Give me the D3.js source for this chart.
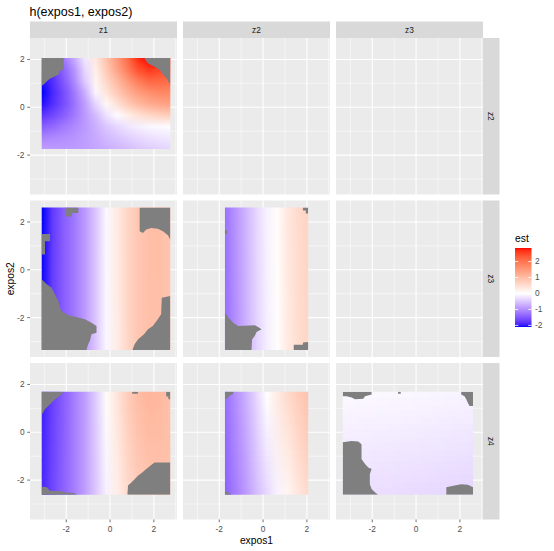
<!DOCTYPE html>
<html>
<head>
<meta charset="utf-8">
<script src="https://cdn.jsdelivr.net/npm/d3@7"></script>
<style>
  body { margin: 0; background: #fff; }
  svg { display: block; font-family: "Liberation Sans", Arial, sans-serif; }
</style>
</head>
<body>
<div id="chart"></div>
<script>
// facet levels
const colLevels = ["z1", "z2", "z3"];
const rowLevels = ["z2", "z3", "z4"];

// observed range of each variable (tile edges)
const rangeZ1 = [-3.12, 2.75];
const rangeZ2 = [-1.74, 2.06];
const rangeZ3 = [-3.35, 2.6];
const rangeZ4 = [-2.61, 1.70];

const xBreaks = [-2, 0, 2];
const yBreaks = [-2, 0, 2];
const legendBreaks = [-2, -1, 0, 1, 2];

// est on a regular grid of nodes, rows from top (max y) to bottom, columns left to right
const estZ1Z2 = [
  [-1.9, -1.6, -1.2, -0.75, -0.2, 0.35, 0.9, 1.5, 2.1, 2.7, 2.85, 2.8, 2.7],
  [-2.0, -1.75, -1.4, -0.95, -0.35, 0.25, 0.8, 1.35, 1.9, 2.4, 2.6, 2.5, 2.4],
  [-2.05, -1.85, -1.5, -1.05, -0.45, 0.15, 0.6, 1.05, 1.5, 1.9, 2.15, 2.15, 2.05],
  [-2.1, -1.9, -1.6, -1.2, -0.7, -0.08, 0.4, 0.8, 1.15, 1.45, 1.65, 1.75, 1.75],
  [-2.05, -1.85, -1.6, -1.25, -0.85, -0.35, 0.1, 0.45, 0.8, 1.05, 1.25, 1.35, 1.4],
  [-1.8, -1.65, -1.45, -1.2, -0.9, -0.6, -0.25, -0.03, 0.25, 0.45, 0.6, 0.7, 0.75],
  [-1.45, -1.35, -1.2, -1.05, -0.9, -0.7, -0.5, -0.35, -0.22, -0.13, -0.07, -0.04, -0.02],
  [-1.1, -1.05, -1.0, -0.95, -0.85, -0.75, -0.62, -0.52, -0.42, -0.35, -0.28, -0.23, -0.2],
  [-0.85, -0.88, -0.9, -0.88, -0.85, -0.8, -0.72, -0.65, -0.58, -0.5, -0.45, -0.4, -0.35]
];
const estZ1Z3 = [
  [-2.1, -1.75, -1.45, -1.2, -0.9, -0.5, -0.06, 0.3, 0.62, 0.85, 0.97, 0.97, 0.88],
  [-2.05, -1.7, -1.45, -1.2, -0.9, -0.5, -0.08, 0.28, 0.6, 0.85, 0.95, 0.95, 0.88]
];
const estZ2Z3 = [
  [-1.25, -0.95, -0.65, -0.35, -0.1, 0.05, 0.35, 0.55, 0.65],
  [-1.3, -1.0, -0.7, -0.4, -0.15, 0.02, 0.3, 0.5, 0.62]
];
const estZ1Z4 = [
  [-1.95, -1.7, -1.45, -1.15, -0.85, -0.45, 0.05, 0.4, 0.75, 1.0, 1.1, 1.05, 0.95],
  [-1.9, -1.65, -1.4, -1.15, -0.85, -0.5, -0.12, 0.25, 0.55, 0.75, 0.85, 0.9, 0.9]
];
const estZ2Z4 = [
  [-1.3, -1.0, -0.7, -0.35, 0.0, 0.3, 0.55, 0.75, 0.9],
  [-1.4, -1.15, -0.9, -0.6, -0.35, -0.1, 0.12, 0.35, 0.55]
];
const estZ3Z4 = [
  [-0.05, -0.07, -0.1],
  [-0.28, -0.32, -0.38]
];

// outlines of the NA (grey) tiles, in data units
const naZ1Z2 = [
  [[-3.12, 2.06], [-2.12, 2.06], [-2.12, 1.55], [-2.27, 1.55], [-2.35, 1.37], [-2.58, 1.27], [-2.73, 1.2], [-2.88, 1.09], [-3.03, 0.95], [-3.12, 0.9]],
  [[1.59, 2.06], [2.75, 2.06], [2.75, 0.92], [2.71, 0.99], [2.58, 1.2], [2.42, 1.37], [2.27, 1.55], [2.05, 1.69], [1.74, 1.83], [1.59, 2.0]]
];
const naZ1Z3 = [
  [[-2.06, 2.6], [-1.45, 2.6], [-1.45, 2.37], [-1.75, 2.37], [-1.75, 2.23], [-2.06, 2.23]],
  [[-3.12, 1.5], [-2.74, 1.5], [-2.74, 1.19], [-2.97, 1.19], [-2.97, 0.64], [-3.12, 0.64]],
  [[-3.12, -0.40], [-2.89, -0.61], [-2.67, -0.75], [-2.51, -1.03], [-2.36, -1.31], [-2.29, -1.58], [-2.21, -1.72], [-1.99, -1.86], [-1.76, -1.93], [-1.45, -2.0], [-1.15, -2.07], [-0.85, -2.21], [-0.62, -2.35], [-0.62, -2.63], [-0.85, -2.70], [-0.92, -2.97], [-1.0, -3.11], [-1.08, -3.35], [-3.12, -3.35]],
  [[1.35, 2.6], [2.75, 2.6], [2.75, 1.26], [2.64, 1.44], [2.41, 1.61], [2.18, 1.72], [1.88, 1.75], [1.65, 1.68], [1.5, 1.54], [1.35, 1.61]],
  [[2.75, -1.10], [2.36, -1.17], [2.33, -1.86], [2.18, -2.07], [1.95, -2.35], [1.73, -2.49], [1.55, -2.70], [1.28, -2.90], [1.12, -3.11], [1.02, -3.35], [2.75, -3.35]]
];
const naZ2Z3 = [
  [[-1.74, -1.79], [-1.59, -2.0], [-1.36, -2.21], [-1.14, -2.35], [-0.38, -2.32], [-0.23, -2.39], [-0.07, -2.49], [-0.3, -2.6], [-0.38, -2.77], [-0.5, -2.9], [-0.53, -3.35], [-1.74, -3.35]],
  [[-1.74, 1.65], [-1.64, 1.65], [-1.64, 1.51], [-1.74, 1.51]],
  [[1.82, 2.6], [2.06, 2.6], [2.06, 2.35], [1.95, 2.35], [1.95, 2.48], [1.82, 2.48]],
  [[1.40, -3.35], [1.40, -3.14], [1.82, -3.14], [1.82, -3.04], [2.06, -3.02], [2.06, -3.35]]
];
const naZ1Z4 = [
  [[-3.12, 1.70], [-2.14, 1.70], [-2.21, 1.58], [-2.36, 1.49], [-2.51, 1.38], [-2.67, 1.24], [-2.82, 1.10], [-2.97, 0.96], [-3.09, 0.78], [-3.12, 0.78]],
  [[1.01, 1.70], [1.27, 1.70], [1.27, 1.61], [1.01, 1.61]],
  [[2.56, 1.70], [2.75, 1.70], [2.75, 1.38], [2.66, 1.38], [2.66, 1.50], [2.56, 1.50]],
  [[-3.12, -2.28], [-2.89, -2.30], [-2.74, -2.44], [-2.21, -2.47], [-1.99, -2.53], [-1.68, -2.53], [-1.49, -2.61], [-3.12, -2.61]],
  [[2.75, -1.26], [2.03, -1.26], [1.88, -1.37], [1.65, -1.54], [1.47, -1.68], [1.27, -1.82], [1.12, -1.96], [0.97, -2.1], [0.82, -2.23], [0.79, -2.61], [2.75, -2.61]]
];
const naZ2Z4 = [
  [[-1.74, 1.70], [-1.36, 1.70], [-1.36, 1.6], [-1.5, 1.55], [-1.6, 1.45], [-1.68, 1.39], [-1.74, 1.39]],
  [[-1.74, -2.46], [-1.6, -2.5], [-1.44, -2.61], [-1.74, -2.61]]
];
const naZ3Z4 = [
  [[-3.35, 1.70], [-2.03, 1.70], [-2.03, 1.58], [-2.33, 1.51], [-2.41, 1.40], [-2.79, 1.38], [-2.94, 1.45], [-3.17, 1.51], [-3.35, 1.51]],
  [[-0.82, 1.70], [-0.7, 1.70], [-0.7, 1.61], [-0.82, 1.61]],
  [[2.06, 1.70], [2.6, 1.70], [2.6, 1.10], [2.44, 1.10], [2.36, 1.24], [2.29, 1.38], [2.21, 1.51], [2.06, 1.58]],
  [[-3.35, -0.42], [-2.94, -0.36], [-2.64, -0.39], [-2.49, -0.5], [-2.49, -1.12], [-2.33, -1.33], [-2.18, -1.47], [-2.03, -1.54], [-2.11, -1.75], [-2.11, -2.17], [-2.03, -2.37], [-1.88, -2.51], [-1.73, -2.61], [-3.35, -2.61]],
  [[1.38, -2.61], [1.38, -2.3], [1.76, -2.23], [2.06, -2.17], [2.36, -2.19], [2.6, -2.3], [2.6, -2.61]]
];

// which panels hold data
const panelCol = ["z1", "z1", "z2", "z1", "z2", "z3"];
const panelRow = ["z2", "z3", "z3", "z4", "z4", "z4"];
const panelEst = [estZ1Z2, estZ1Z3, estZ2Z3, estZ1Z4, estZ2Z4, estZ3Z4];
const panelNA = [naZ1Z2, naZ1Z3, naZ2Z3, naZ1Z4, naZ2Z4, naZ3Z4];

const ranges = { z1: rangeZ1, z2: rangeZ2, z3: rangeZ3, z4: rangeZ4 };

// ---- layout
const W = 554, H = 551;
const marginLeft = 30, marginTop = 38;
const panelW = 147, panelH = 156.5, gap = 6, stripSize = 16.5;

const svg = d3.select("#chart").append("svg").attr("width", W).attr("height", H);
const defs = svg.append("defs");

// fixed scales shared by every panel, ggplot-style 5% expansion
function expand(ext) {
  const d = (ext[1] - ext[0]) * 0.05;
  return [ext[0] - d, ext[1] + d];
}
const xExt = d3.extent(colLevels.flatMap(k => ranges[k]));
const yExt = d3.extent(rowLevels.flatMap(k => ranges[k]));
const x = d3.scaleLinear().domain(expand(xExt)).range([0, panelW]);
const y = d3.scaleLinear().domain(expand(yExt)).range([panelH, 0]);

const xMinor = [-3, -1, 1, 3].filter(v => v > x.domain()[0] && v < x.domain()[1]);
const yMinor = [-3, -1, 1, 3].filter(v => v > y.domain()[0] && v < y.domain()[1]);

// colour scale: blue - white - red around 0
const allVals = panelEst.flat(2);
const vmin = d3.min(allVals), vmax = d3.max(allVals);
const toBlue = d3.interpolateLab("#ffffff", "#0000ff");
const toRed = d3.interpolateLab("#ffffff", "#ff0000");
const fillColor = v => v < 0 ? toBlue(Math.min(1, v / vmin)) : toRed(Math.min(1, v / vmax));

function drawHeat(g, vals, naPolys, xr, yr, clipId) {
  const ny = vals.length, nx = vals[0].length;
  const cv = document.createElement("canvas");
  cv.width = nx; cv.height = ny;
  const ctx = cv.getContext("2d");
  const img = ctx.createImageData(nx, ny);
  vals.forEach((row, j) => row.forEach((v, i) => {
    const c = d3.rgb(fillColor(v));
    const k = 4 * (j * nx + i);
    img.data[k] = c.r; img.data[k + 1] = c.g; img.data[k + 2] = c.b; img.data[k + 3] = 255;
  }));
  ctx.putImageData(img, 0, 0);

  defs.append("clipPath").attr("id", clipId).append("rect")
    .attr("x", x(xr[0])).attr("y", y(yr[1]))
    .attr("width", x(xr[1]) - x(xr[0])).attr("height", y(yr[0]) - y(yr[1]));

  // nodes sit on the range edges, so the image reaches half a cell beyond them
  const dx = (xr[1] - xr[0]) / (nx - 1), dy = (yr[1] - yr[0]) / (ny - 1);
  const hg = g.append("g").attr("clip-path", `url(#${clipId})`);
  hg.append("image").attr("href", cv.toDataURL())
    .attr("x", x(xr[0] - dx / 2)).attr("width", x(xr[1] + dx / 2) - x(xr[0] - dx / 2))
    .attr("y", y(yr[1] + dy / 2)).attr("height", y(yr[0] - dy / 2) - y(yr[1] + dy / 2))
    .attr("preserveAspectRatio", "none");

  const line = d3.line().x(d => x(d[0])).y(d => y(d[1]));
  hg.selectAll("path.na").data(naPolys).join("path")
    .attr("d", d => line(d) + "Z").attr("fill", "#7F7F7F");
}

// title
svg.append("text").attr("x", 29.5).attr("y", 15.5)
  .attr("font-size", 12.5).attr("fill", "#000").text("h(expos1, expos2)");

// panels
rowLevels.forEach((rk, ri) => {
  colLevels.forEach((ck, ci) => {
    const px = marginLeft + ci * (panelW + gap), py = marginTop + ri * (panelH + gap);
    const g = svg.append("g").attr("transform", `translate(${px},${py})`);
    g.append("rect").attr("width", panelW).attr("height", panelH).attr("fill", "#EBEBEB");

    // grid
    g.selectAll(".vmin").data(xMinor).join("line")
      .attr("x1", d => x(d)).attr("x2", d => x(d)).attr("y1", 0).attr("y2", panelH)
      .attr("stroke", "#fff").attr("stroke-width", 0.55);
    g.selectAll(".hmin").data(yMinor).join("line")
      .attr("y1", d => y(d)).attr("y2", d => y(d)).attr("x1", 0).attr("x2", panelW)
      .attr("stroke", "#fff").attr("stroke-width", 0.55);
    g.selectAll(".vmaj").data(xBreaks).join("line")
      .attr("x1", d => x(d)).attr("x2", d => x(d)).attr("y1", 0).attr("y2", panelH)
      .attr("stroke", "#fff").attr("stroke-width", 1.1);
    g.selectAll(".hmaj").data(yBreaks).join("line")
      .attr("y1", d => y(d)).attr("y2", d => y(d)).attr("x1", 0).attr("x2", panelW)
      .attr("stroke", "#fff").attr("stroke-width", 1.1);

    const idx = panelEst.findIndex((e, i) => panelCol[i] === ck && panelRow[i] === rk);
    if (idx >= 0) drawHeat(g, panelEst[idx], panelNA[idx], ranges[ck], ranges[rk], `clip${ri}${ci}`);

    // top strips
    if (ri === 0) {
      svg.append("rect").attr("x", px).attr("y", marginTop - stripSize).attr("width", panelW).attr("height", stripSize)
        .attr("fill", "#D9D9D9");
      svg.append("text").attr("x", px + panelW / 2).attr("y", marginTop - stripSize / 2).attr("dy", "0.35em")
        .attr("text-anchor", "middle").attr("font-size", 8.3).attr("fill", "#1A1A1A").text(ck);
    }
    // right strips
    if (ci === colLevels.length - 1) {
      const sx = px + panelW;
      svg.append("rect").attr("x", sx).attr("y", py).attr("width", stripSize).attr("height", panelH)
        .attr("fill", "#D9D9D9");
      svg.append("text").attr("transform", `translate(${sx + stripSize / 2},${py + panelH / 2}) rotate(90)`)
        .attr("dy", "0.35em").attr("text-anchor", "middle").attr("font-size", 8.3).attr("fill", "#1A1A1A").text(rk);
    }
    // left axis
    if (ci === 0) {
      const ax = g.append("g");
      ax.selectAll("line").data(yBreaks).join("line")
        .attr("x1", -2.75).attr("x2", 0).attr("y1", d => y(d)).attr("y2", d => y(d))
        .attr("stroke", "#333").attr("stroke-width", 0.7);
      ax.selectAll("text").data(yBreaks).join("text")
        .attr("x", -5.5).attr("y", d => y(d)).attr("dy", "0.35em").attr("text-anchor", "end")
        .attr("font-size", 8.3).attr("fill", "#4D4D4D").text(d => String(d));
    }
    // bottom axis
    if (ri === rowLevels.length - 1) {
      const ax = g.append("g");
      ax.selectAll("line").data(xBreaks).join("line")
        .attr("y1", panelH).attr("y2", panelH + 2.75).attr("x1", d => x(d)).attr("x2", d => x(d))
        .attr("stroke", "#333").attr("stroke-width", 0.7);
      ax.selectAll("text").data(xBreaks).join("text")
        .attr("y", panelH + 12.5).attr("x", d => x(d)).attr("text-anchor", "middle")
        .attr("font-size", 8.3).attr("fill", "#4D4D4D").text(d => String(d));
    }
  });
});

// axis titles
svg.append("text").attr("x", marginLeft + (3 * panelW + 2 * gap) / 2).attr("y", 544)
  .attr("text-anchor", "middle").attr("font-size", 10.3).attr("fill", "#000").text("expos1");
svg.append("text").attr("transform", `translate(13.5,${marginTop + (3 * panelH + 2 * gap) / 2}) rotate(-90)`)
  .attr("text-anchor", "middle").attr("font-size", 10.3).attr("fill", "#000").text("expos2");

// legend
const barX = 515, barW = 16.5, barTop = 248, barBottom = 327;
const ly = d3.scaleLinear().domain([vmin, vmax]).range([barBottom, barTop]);
const grad = defs.append("linearGradient").attr("id", "estGrad")
  .attr("x1", 0).attr("y1", 1).attr("x2", 0).attr("y2", 0);
d3.range(0, 1.0001, 0.02).forEach(t => {
  grad.append("stop").attr("offset", t).attr("stop-color", fillColor(vmin + t * (vmax - vmin)));
});
svg.append("text").attr("x", barX).attr("y", 241.5).attr("font-size", 10.3).attr("fill", "#000").text("est");
svg.append("rect").attr("x", barX).attr("y", barTop).attr("width", barW).attr("height", barBottom - barTop)
  .attr("fill", "url(#estGrad)");
const lg = svg.append("g");
lg.selectAll("line.l").data(legendBreaks).join("line")
  .attr("x1", barX).attr("x2", barX + barW / 5).attr("y1", d => ly(d)).attr("y2", d => ly(d))
  .attr("stroke", "#fff").attr("stroke-width", 0.8);
lg.selectAll("line.r").data(legendBreaks).join("line")
  .attr("x1", barX + barW * 4 / 5).attr("x2", barX + barW).attr("y1", d => ly(d)).attr("y2", d => ly(d))
  .attr("stroke", "#fff").attr("stroke-width", 0.8);
lg.selectAll("text").data(legendBreaks).join("text")
  .attr("x", barX + barW + 3.5).attr("y", d => ly(d)).attr("dy", "0.35em")
  .attr("font-size", 8.3).attr("fill", "#4D4D4D").text(d => String(d));
</script>
</body>
</html>
